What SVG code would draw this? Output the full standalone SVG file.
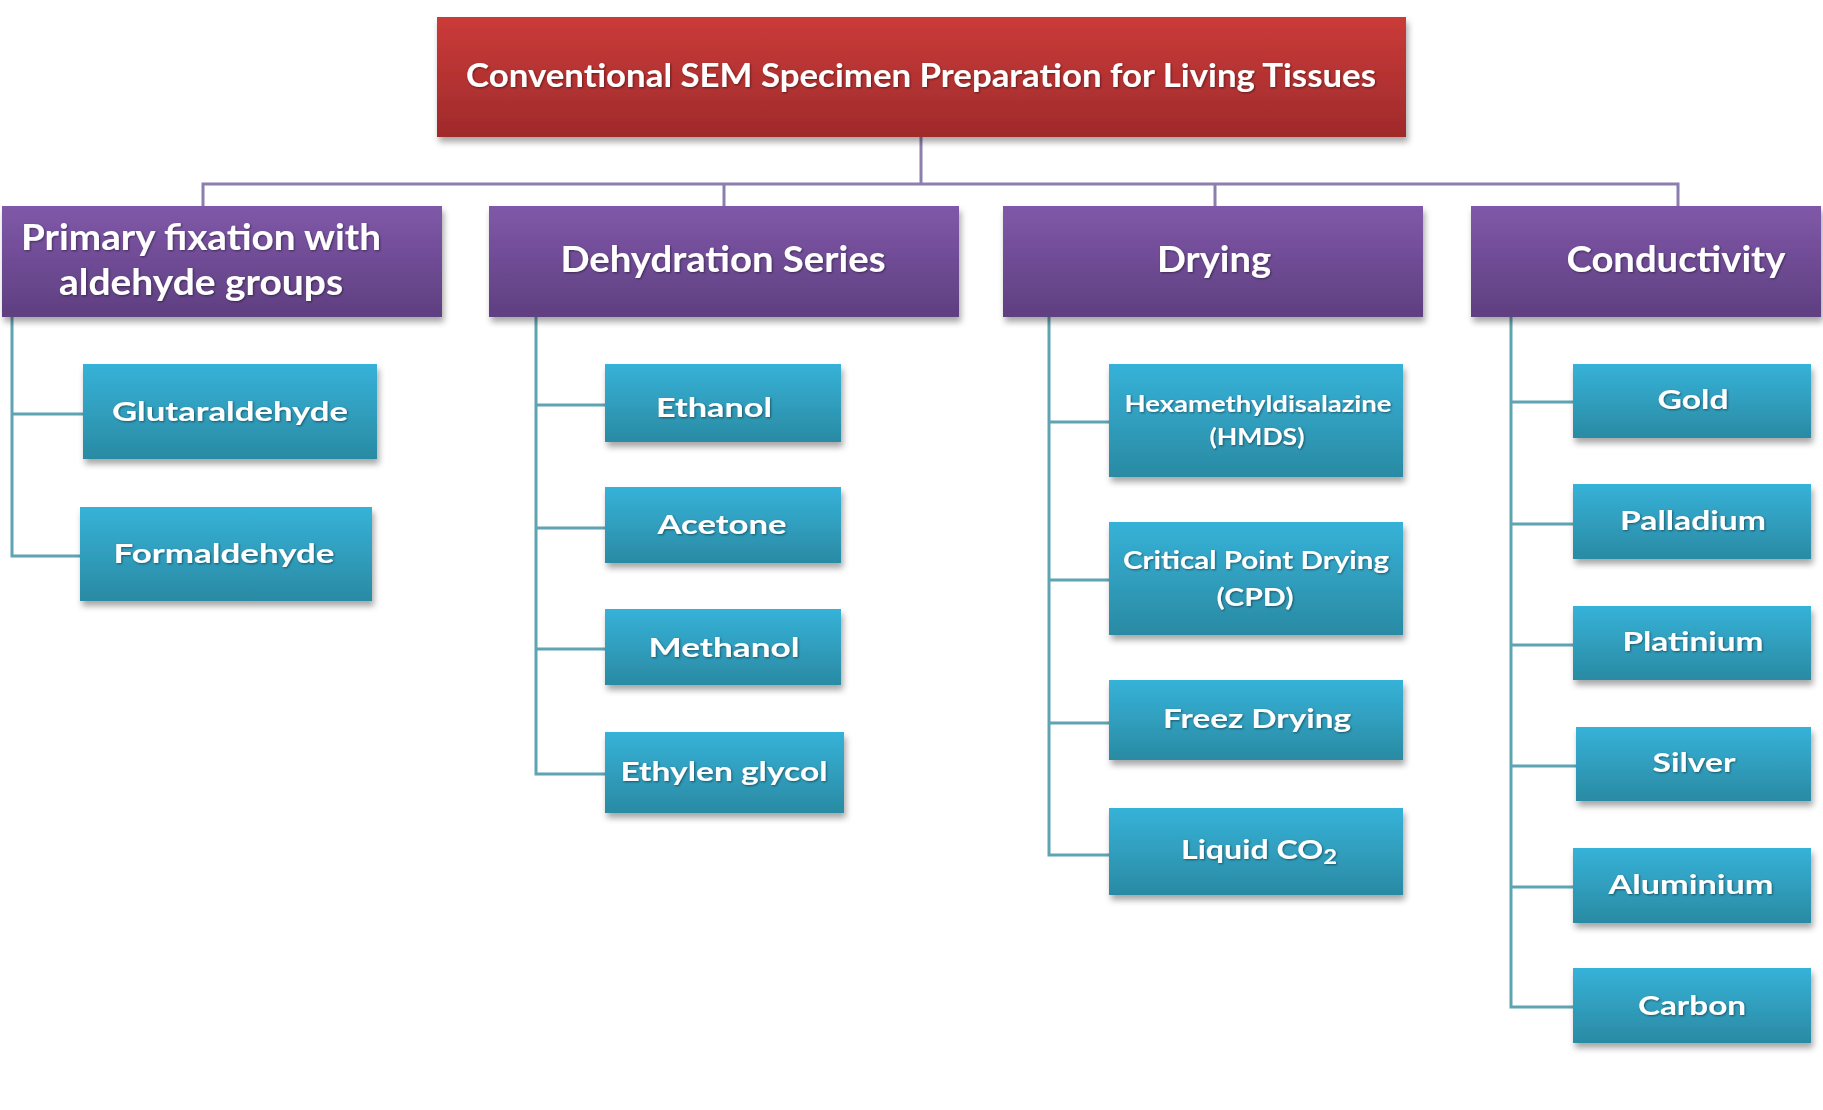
<svg xmlns="http://www.w3.org/2000/svg" width="1823" height="1110" viewBox="0 0 1823 1110">
<defs>
<linearGradient id="gRed" x1="0" y1="0" x2="0" y2="1"><stop offset="0" stop-color="#cb3b39"/><stop offset="1" stop-color="#9f2a2b"/></linearGradient>
<linearGradient id="gPur" x1="0" y1="0" x2="0" y2="1"><stop offset="0" stop-color="#8058a9"/><stop offset="1" stop-color="#5e3f80"/></linearGradient>
<linearGradient id="gTeal" x1="0" y1="0" x2="0" y2="1"><stop offset="0" stop-color="#36b2d8"/><stop offset="1" stop-color="#2a8aa3"/></linearGradient>
<filter id="sh" x="-10%" y="-20%" width="120%" height="150%"><feDropShadow dx="2" dy="5" stdDeviation="3" flood-color="#000" flood-opacity="0.35"/></filter>
<filter id="tsh" x="-5%" y="-20%" width="110%" height="150%"><feDropShadow dx="1" dy="1" stdDeviation="0.8" flood-color="#000" flood-opacity="0.45"/></filter>
</defs>
<style>
.red{fill:url(#gRed);filter:url(#sh)}
.pur{fill:url(#gPur);filter:url(#sh)}
.teal{fill:url(#gTeal);filter:url(#sh)}
text{font-family:Lato,"Liberation Sans",sans-serif;fill:#fff;text-anchor:middle;filter:url(#tsh)}
.tt{font-size:32px;font-weight:700}
.ct{font-size:36px;font-weight:700}
.it{font-size:27px;font-weight:700}
.st{font-size:22px;font-weight:700}
.mt{font-size:24px;font-weight:700}
.top{fill:none;stroke:#8c7fae;stroke-width:3}
.sub{fill:none;stroke:#5fa4b2;stroke-width:3}
</style>
<g id="connectors">
<path class="top" d="M921 137V184M203 206V184H1678V206M724 184V206M1215 184V206"/>
<path class="sub" d="M12 317V556H81M12 414H83"/>
<path class="sub" d="M536 317V774H605M536 405H605M536 528H605M536 649H605"/>
<path class="sub" d="M1049 317V855H1109M1049 422H1109M1049 580H1109M1049 723H1109"/>
<path class="sub" d="M1511 317V1007H1573M1511 402H1573M1511 524H1573M1511 645H1573M1511 766H1576M1511 887H1573"/>
</g>
<g id="title"><rect class="red" x="437" y="17" width="969" height="120"/><text class="tt" x="921" y="87" textLength="910" lengthAdjust="spacingAndGlyphs">Conventional SEM Specimen Preparation for Living Tissues</text></g>
<g id="primary"><rect class="pur" x="2" y="206" width="440" height="111"/><text class="ct" x="201" y="250" textLength="360" lengthAdjust="spacingAndGlyphs">Primary fixation with</text><text class="ct" x="201" y="295" textLength="284" lengthAdjust="spacingAndGlyphs">aldehyde groups</text></g>
<g id="dehydration"><rect class="pur" x="489" y="206" width="470" height="111"/><text class="ct" x="723" y="272" textLength="325" lengthAdjust="spacingAndGlyphs">Dehydration Series</text></g>
<g id="drying"><rect class="pur" x="1003" y="206" width="420" height="111"/><text class="ct" x="1214" y="272" textLength="114" lengthAdjust="spacingAndGlyphs">Drying</text></g>
<g id="conductivity"><rect class="pur" x="1471" y="206" width="350" height="111"/><text class="ct" x="1676" y="272" textLength="219" lengthAdjust="spacingAndGlyphs">Conductivity</text></g>
<g id="glutaraldehyde"><rect class="teal" x="83" y="364" width="294" height="95"/><text class="it" x="230" y="421" textLength="236" lengthAdjust="spacingAndGlyphs">Glutaraldehyde</text></g>
<g id="formaldehyde"><rect class="teal" x="80" y="507" width="292" height="94"/><text class="it" x="224" y="563" textLength="221" lengthAdjust="spacingAndGlyphs">Formaldehyde</text></g>
<g id="ethanol"><rect class="teal" x="605" y="364" width="236" height="78"/><text class="it" x="714" y="417" textLength="116" lengthAdjust="spacingAndGlyphs">Ethanol</text></g>
<g id="acetone"><rect class="teal" x="605" y="487" width="236" height="76"/><text class="it" x="722" y="534" textLength="129" lengthAdjust="spacingAndGlyphs">Acetone</text></g>
<g id="methanol"><rect class="teal" x="605" y="609" width="236" height="76"/><text class="it" x="724" y="657" textLength="151" lengthAdjust="spacingAndGlyphs">Methanol</text></g>
<g id="ethylen"><rect class="teal" x="605" y="732" width="239" height="81"/><text class="it" x="724" y="781" textLength="207" lengthAdjust="spacingAndGlyphs">Ethylen glycol</text></g>
<g id="hmds"><rect class="teal" x="1109" y="364" width="294" height="113"/><text class="st" x="1258" y="412" textLength="267" lengthAdjust="spacingAndGlyphs">Hexamethyldisalazine</text><text class="st" x="1257" y="445" textLength="95" lengthAdjust="spacingAndGlyphs">(HMDS)</text></g>
<g id="cpd"><rect class="teal" x="1109" y="522" width="294" height="113"/><text class="mt" x="1256" y="569" textLength="266" lengthAdjust="spacingAndGlyphs">Critical Point Drying</text><text class="mt" x="1255" y="606" textLength="77" lengthAdjust="spacingAndGlyphs">(CPD)</text></g>
<g id="freez"><rect class="teal" x="1109" y="680" width="294" height="80"/><text class="it" x="1257" y="728" textLength="188" lengthAdjust="spacingAndGlyphs">Freez Drying</text></g>
<g id="co2"><rect class="teal" x="1109" y="808" width="294" height="87"/><text class="it" x="1259" y="859" font-size="30" textLength="156" lengthAdjust="spacingAndGlyphs">Liquid CO<tspan font-size="20" dy="5">2</tspan></text></g>
<g id="gold"><rect class="teal" x="1573" y="364" width="238" height="74"/><text class="it" x="1693" y="409" textLength="71" lengthAdjust="spacingAndGlyphs">Gold</text></g>
<g id="palladium"><rect class="teal" x="1573" y="484" width="238" height="75"/><text class="it" x="1693" y="530" textLength="146" lengthAdjust="spacingAndGlyphs">Palladium</text></g>
<g id="platinium"><rect class="teal" x="1573" y="606" width="238" height="74"/><text class="it" x="1693" y="651" textLength="141" lengthAdjust="spacingAndGlyphs">Platinium</text></g>
<g id="silver"><rect class="teal" x="1576" y="727" width="235" height="74"/><text class="it" x="1694" y="772" textLength="83" lengthAdjust="spacingAndGlyphs">Silver</text></g>
<g id="aluminium"><rect class="teal" x="1573" y="848" width="238" height="75"/><text class="it" x="1691" y="894" textLength="165" lengthAdjust="spacingAndGlyphs">Aluminium</text></g>
<g id="carbon"><rect class="teal" x="1573" y="968" width="238" height="75"/><text class="it" x="1692" y="1015" textLength="108" lengthAdjust="spacingAndGlyphs">Carbon</text></g>
</svg>
